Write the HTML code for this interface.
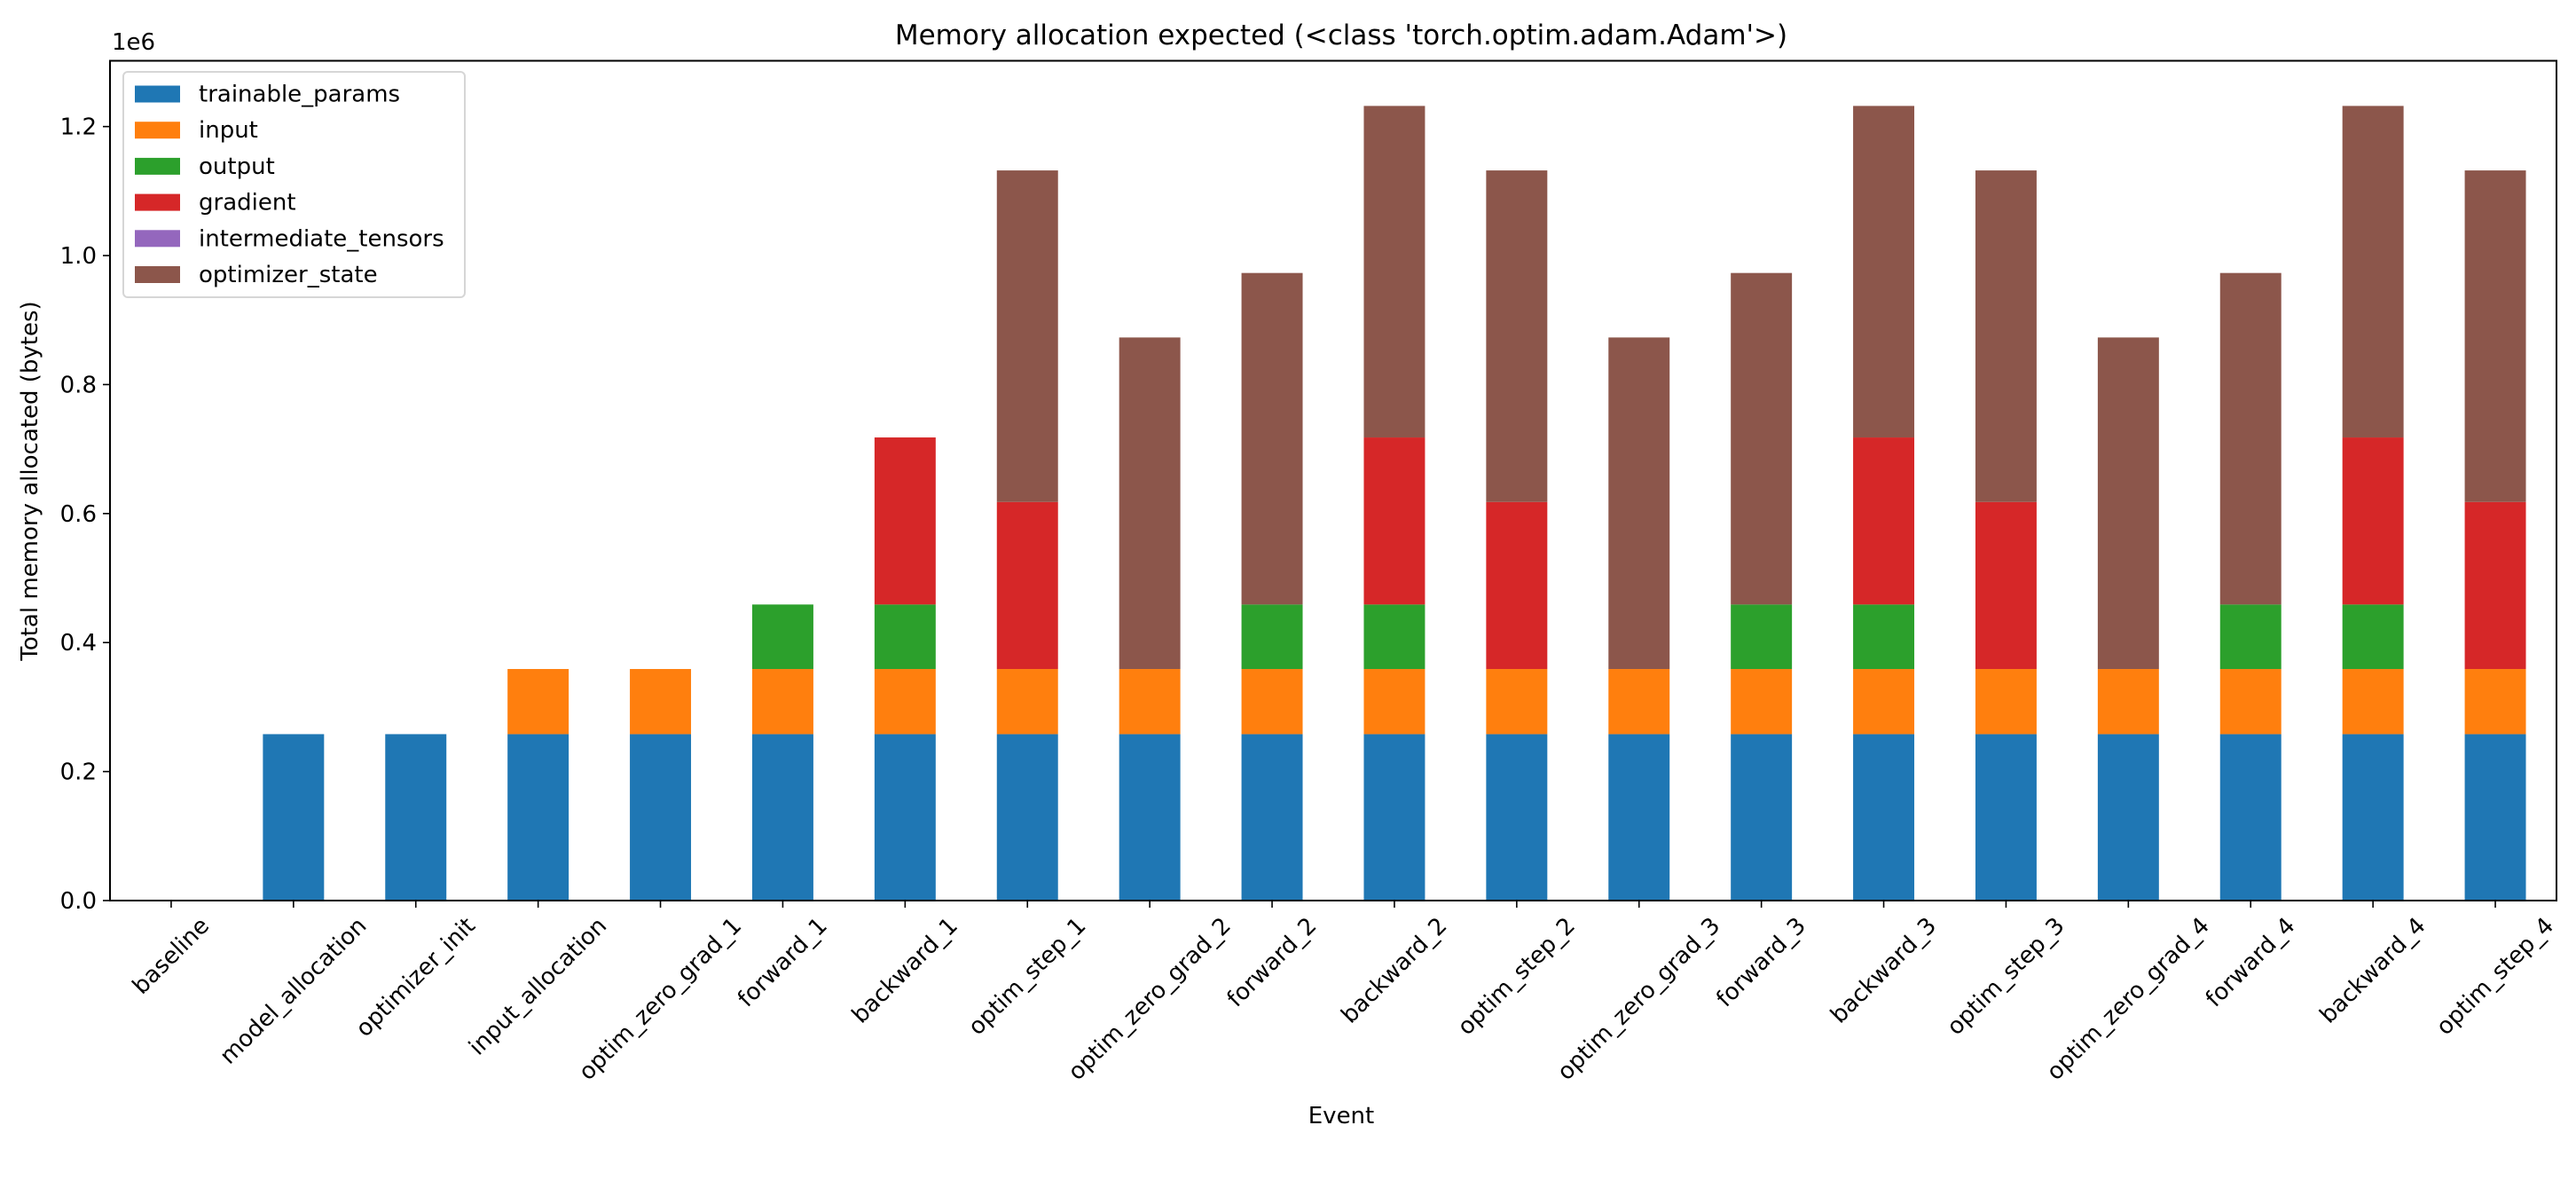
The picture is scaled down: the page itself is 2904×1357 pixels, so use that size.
<!DOCTYPE html>
<html><head><meta charset="utf-8"><style>
html,body{margin:0;padding:0;background:#fff;}
svg text{font-family:"DejaVu Sans","Liberation Sans",sans-serif;fill:#000;}
</style></head><body>
<svg id="chart" width="2904" height="1352" xmlns="http://www.w3.org/2000/svg">
<rect x="0" y="0" width="2904" height="1352" fill="#fff"/>
<g id="bars"></g>
<g id="axes"></g>
<text x="1512" y="50" font-size="31" text-anchor="middle">Memory allocation expected (&lt;class 'torch.optim.adam.Adam'&gt;)</text>
<text x="1512" y="1266" font-size="26" text-anchor="middle">Event</text>
<text transform="translate(42,542) rotate(-90)" font-size="26" text-anchor="middle">Total memory allocated (bytes)</text>
<text x="126" y="56" font-size="26">1e6</text>
<g id="legend"></g>
</svg>
<script>
const categories = ["baseline","model_allocation","optimizer_init","input_allocation","optim_zero_grad_1","forward_1","backward_1","optim_step_1","optim_zero_grad_2","forward_2","backward_2","optim_step_2","optim_zero_grad_3","forward_3","backward_3","optim_step_3","optim_zero_grad_4","forward_4","backward_4","optim_step_4"];
const seriesNames = ["trainable_params","input","output","gradient","intermediate_tensors","optimizer_state"];
const seriesColors = ["#1f77b4","#ff7f0e","#2ca02c","#d62728","#9467bd","#8c564b"];
const trainableParams = [0,0.258,0.258,0.258,0.258,0.258,0.258,0.258,0.258,0.258,0.258,0.258,0.258,0.258,0.258,0.258,0.258,0.258,0.258,0.258];
const inputVals = [0,0,0,0.101,0.101,0.101,0.101,0.101,0.101,0.101,0.101,0.101,0.101,0.101,0.101,0.101,0.101,0.101,0.101,0.101];
const outputVals = [0,0,0,0,0,0.1,0.1,0,0,0.1,0.1,0,0,0.1,0.1,0,0,0.1,0.1,0];
const gradientVals = [0,0,0,0,0,0,0.259,0.259,0,0,0.259,0.259,0,0,0.259,0.259,0,0,0.259,0.259];
const intermediateVals = [0,0,0,0,0,0,0,0,0,0,0,0,0,0,0,0,0,0,0,0];
const optimizerVals = [0,0,0,0,0,0,0,0.514,0.514,0.514,0.514,0.514,0.514,0.514,0.514,0.514,0.514,0.514,0.514,0.514];
const yTicks = [0,0.2,0.4,0.6,0.8,1.0,1.2];
const yTickLabels = ["0.0","0.2","0.4","0.6","0.8","1.0","1.2"];

const NS="http://www.w3.org/2000/svg";
const L=124,R=2882,T=68.5,B=1015,YMAX=1.302;
const n=categories.length, step=(R-L)/n;
const xc=i=>L+(i+0.5)*step;
const y=v=>B-(v/YMAX)*(B-T);
function mk(tag,attrs,parent){const e=document.createElementNS(NS,tag);for(const k in attrs)e.setAttribute(k,attrs[k]);parent.appendChild(e);return e;}
const series=[trainableParams,inputVals,outputVals,gradientVals,intermediateVals,optimizerVals];
const bars=document.getElementById('bars');
for(let i=0;i<n;i++){
  let base=0;
  for(let s=0;s<series.length;s++){
    const v=series[s][i];
    if(v>0){
      const r=mk('rect',{x:xc(i)-step*0.25,y:y(base+v),width:step*0.5,height:y(base)-y(base+v),fill:seriesColors[s]},bars);
      
      
    }
    base+=v;
  }
}
const ax=document.getElementById('axes');
const frame=mk('rect',{x:L,y:T,width:R-L,height:B-T,fill:'none',stroke:'#000','stroke-width':2},ax);


for(let k=0;k<yTicks.length;k++){
  const yy=y(yTicks[k]);
  const t=mk('line',{x1:L-8,x2:L,y1:yy,y2:yy,stroke:'#000','stroke-width':1.6},ax);
  
  
  const lb=mk('text',{x:L-15,y:yy+9,'font-size':26,'text-anchor':'end'},ax);
  lb.textContent=yTickLabels[k];
  
  
}
for(let i=0;i<n;i++){
  const xx=xc(i);
  const t=mk('line',{x1:xx,x2:xx,y1:B,y2:B+8,stroke:'#000','stroke-width':1.6},ax);
  
  
  const lb=mk('text',{'font-size':26,'text-anchor':'middle','dominant-baseline':'central'},ax);
  lb.textContent=categories[i];
  
  
  const w=lb.getComputedTextLength(), h=(w+26)*0.7071;
  lb.setAttribute('transform','translate('+xx+','+(B+15+h/2)+') rotate(-45)');
}
const lg=document.getElementById('legend');
const box=mk('rect',{x:139,y:81,width:385,height:254,rx:5,fill:'#fff','fill-opacity':0.8,stroke:'#d6d6d6','stroke-width':2},lg);


for(let s=0;s<seriesNames.length;s++){
  const cy=105.5+s*40.7;
  const p=mk('rect',{x:152,y:cy-9,width:51,height:19,fill:seriesColors[s]},lg);
  
  
  const t=mk('text',{x:224,y:cy+9,'font-size':26},lg);
  t.textContent=seriesNames[s];
  
  
}
</script>
</body></html>
